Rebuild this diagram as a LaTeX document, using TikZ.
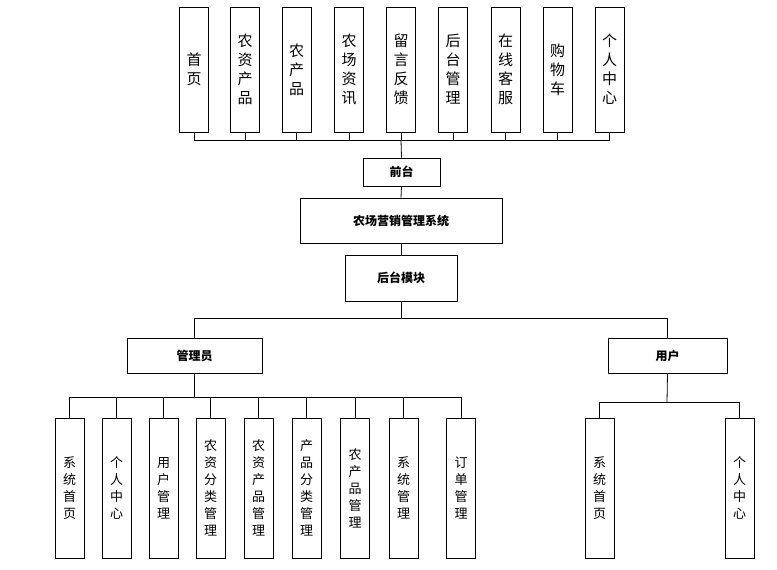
\documentclass[tikz,border=0pt]{standalone}
\usepackage{fontspec}
\setmainfont{Noto Sans CJK SC}
\newfontfamily\cjkb{Noto Sans CJK SC}
\begin{document}
\begin{tikzpicture}[x=1pt,y=-1pt,
  vbox/.style={draw,thick,fill=white,minimum width=29pt,align=center,inner sep=0pt,font=\fontsize{15}{19}\selectfont},
  vboxs/.style={draw,thick,fill=white,minimum width=29pt,minimum height=140pt,align=center,inner sep=0pt,font=\fontsize{13}{17}\selectfont},
  hbox/.style={draw,thick,fill=white,font=\bfseries\fontsize{12}{14}\selectfont},
  ln/.style={thick}]
\useasboundingbox (0,0) rectangle (777,570);
% top
\foreach \n/\x/\t in {t1/194/首\\页, t2/245/农\\资\\产\\品, t3/296.5/农\\产\\品, t4/349/农\\场\\资\\讯, t5/401/留\\言\\反\\馈, t6/453/后\\台\\管\\理, t7/505.5/在\\线\\客\\服, t8/557.5/购\\物\\车, t9/609.5/个\\人\\中\\心}
  \node[vbox,minimum height=125pt] (\n) at (\x,69.5) {\t};
\coordinate (bus) at (401,140);
\foreach \n in {t1,t2,t3,t4,t5,t6,t7,t8,t9} \draw[ln] (\n.south) -- (\n.south|-bus);
\draw[ln] (t1.south|-bus) -- (t9.south|-bus);
\node[hbox,minimum width=77pt,minimum height=28pt] (ft) at (401.5,172) {前台};
\node[hbox,minimum width=202pt,minimum height=45pt] (sys) at (401,220.5) {农场营销管理系统};
\node[hbox,minimum width=112pt,minimum height=46pt] (bk) at (401,278) {后台模块};
\draw[ln] (bus) -- (ft.north);
\draw[ln] (ft.south) -- (sys.north);
\draw[ln] (sys.south) -- (bk.north);
\node[hbox,minimum width=135pt,minimum height=35pt] (adm) at (194.5,355.5) {管理员};
\node[hbox,minimum width=119pt,minimum height=35pt] (usr) at (667.5,355.5) {用户};
\coordinate (b2) at (401,318);
\draw[ln] (bk.south) -- (b2);
\draw[ln] (adm.north) -- (adm.north|-b2) -- (usr.north|-b2) -- (usr.north);
% admin children
\foreach \n/\x/\t in {a1/69.5/系\\统\\首\\页, a2/116.5/个\\人\\中\\心, a3/163.5/用\\户\\管\\理, a4/210.5/农\\资\\分\\类\\管\\理, a5/258.5/农\\资\\产\\品\\管\\理, a6/306.5/产\\品\\分\\类\\管\\理, a7/355/农\\产\\品\\管\\理, a8/403.5/系\\统\\管\\理, a9/461/订\\单\\管\\理}
  \node[vboxs] (\n) at (\x,488) {\t};
\coordinate (b3) at (194,397);
\draw[ln] (adm.south) -- (adm.south|-b3);
\draw[ln] (a1.north|-b3) -- (a9.north|-b3);
\foreach \n in {a1,a2,a3,a4,a5,a6,a7,a8,a9} \draw[ln] (\n.north|-b3) -- (\n.north);
\node[vboxs] (u1) at (599.5,488) {系\\统\\首\\页};
\node[vboxs] (u2) at (739.5,488) {个\\人\\中\\心};
\coordinate (b4) at (667,402);
\draw[ln] (usr.south) -- (b4);
\draw[ln] (u1.north) -- (u1.north|-b4) -- (u2.north|-b4) -- (u2.north);
\end{tikzpicture}
\end{document}
